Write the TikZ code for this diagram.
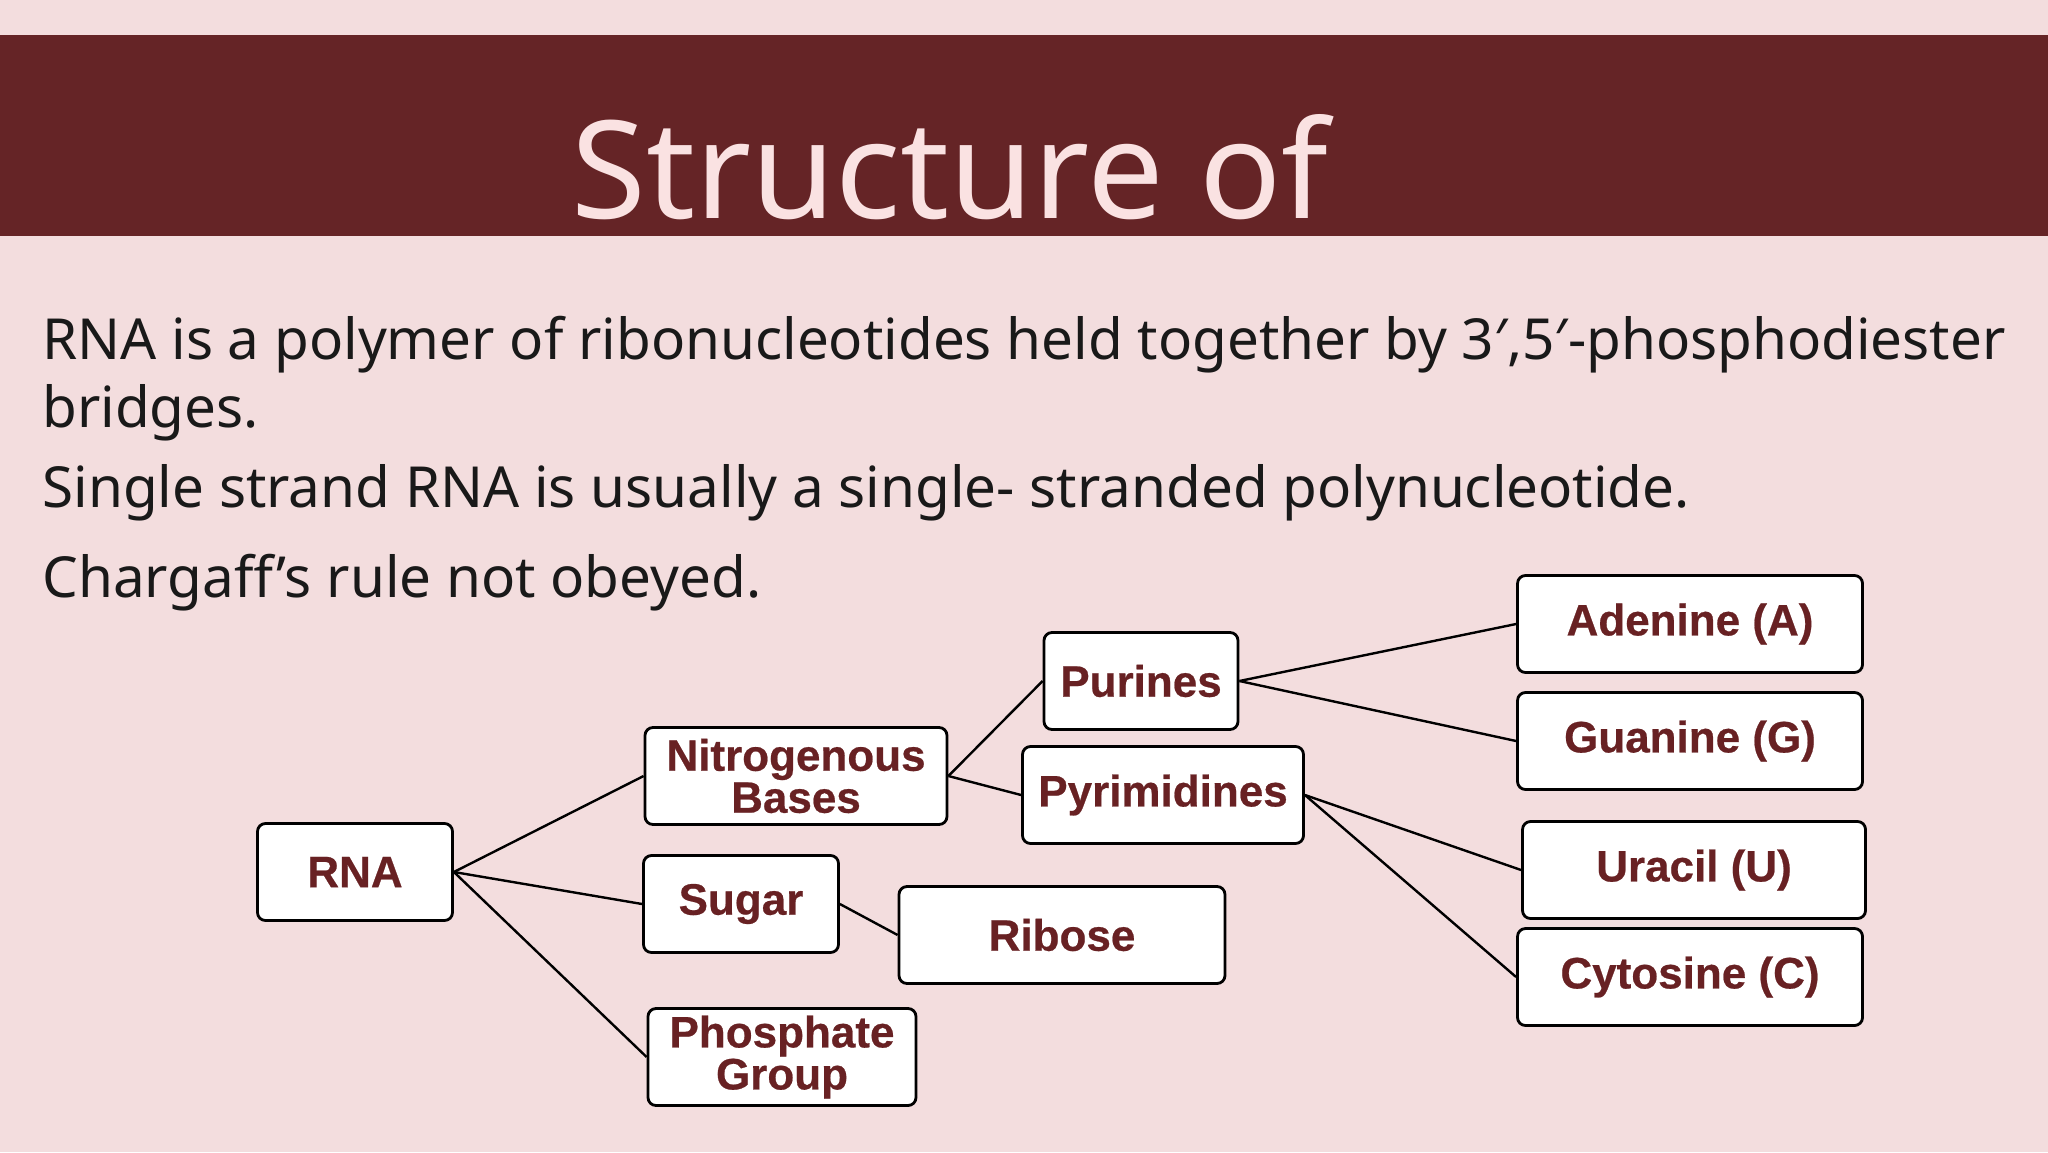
\documentclass[tikz,border=0pt]{standalone}
\usepackage{fontspec}
\setmainfont{Noto Sans}
\newfontfamily\boxfont[BoldFeatures={FakeBold=0.5}]{Liberation Sans}
\usepackage{tikz}
\usetikzlibrary{positioning}
\definecolor{slidePink}{RGB}{243,221,222}
\definecolor{slideMaroon}{RGB}{101,36,38}
\definecolor{titlePink}{RGB}{250,226,226}
\definecolor{boxText}{RGB}{104,33,35}

\begin{document}
\begin{tikzpicture}[x=0.5pt, y=-0.5pt,
    termbox/.style={rectangle, draw=black, line width=1.4pt, fill=white,
        rounded corners=4pt, align=center, inner sep=0pt, minimum height=48.5pt,
        font=\boxfont\bfseries\fontsize{22}{21}\selectfont, text=boxText},
    link/.style={line width=1.2pt, black},
    body/.style={anchor=base west, inner sep=0pt,
        font=\fontsize{28.3}{34}\selectfont, text=black!90}
]
% slide background and title bar
\useasboundingbox (0,0) rectangle (2048,1152);
\fill[slidePink] (0,0) rectangle (2048,1152);
\fill[slideMaroon] (0,35) rectangle (2048,236);
\node[anchor=base west, inner sep=0pt, text=titlePink,
    font=\fontsize{68}{80}\selectfont] (title) at (571,218) {Structure of};

% body text
\node[body] (line1) at (42,359)
    {RNA is a polymer of ribonucleotides held together by 3′,5′-phosphodiester};
\node[body] (line2) at (42,427) {bridges.};
\node[body] (line3) at (42,507)
    {Single strand RNA is usually a single- stranded polynucleotide.};
\node[body] (line4) at (42,597) {Chargaff’s rule not obeyed.};

% tree of components
\node[termbox, minimum width=97.5pt] (rna) at (355,872) {RNA};
\node[termbox, minimum width=151pt] (nitro) at (796,776) {Nitrogenous\\Bases};
\node[termbox, minimum width=97.5pt] (sugar) at (741,904) {Sugar};
\node[termbox, minimum width=134pt] (phos) at (782,1057) {Phosphate\\Group};
\node[termbox, minimum width=163pt] (ribose) at (1062,935) {Ribose};
\node[termbox, minimum width=97pt] (purines) at (1141,681) {Purines};
\node[termbox, minimum width=140.5pt] (pyrim) at (1163,795) {Pyrimidines};
\node[termbox, minimum width=172.5pt] (adenine) at (1690,624) {Adenine (A)};
\node[termbox, minimum width=172.5pt] (guanine) at (1690,741) {Guanine (G)};
\node[termbox, minimum width=171.5pt] (uracil) at (1694,870) {Uracil (U)};
\node[termbox, minimum width=172.5pt] (cytosine) at (1690,977) {Cytosine (C)};

\draw[link] (rna.east) -- (nitro.west);
\draw[link] (rna.east) -- (sugar.west);
\draw[link] (rna.east) -- (phos.west);
\draw[link] (nitro.east) -- (purines.west);
\draw[link] (nitro.east) -- (pyrim.west);
\draw[link] (sugar.east) -- (ribose.west);
\draw[link] (purines.east) -- (adenine.west);
\draw[link] (purines.east) -- (guanine.west);
\draw[link] (pyrim.east) -- (uracil.west);
\draw[link] (pyrim.east) -- (cytosine.west);
\end{tikzpicture}
\end{document}
